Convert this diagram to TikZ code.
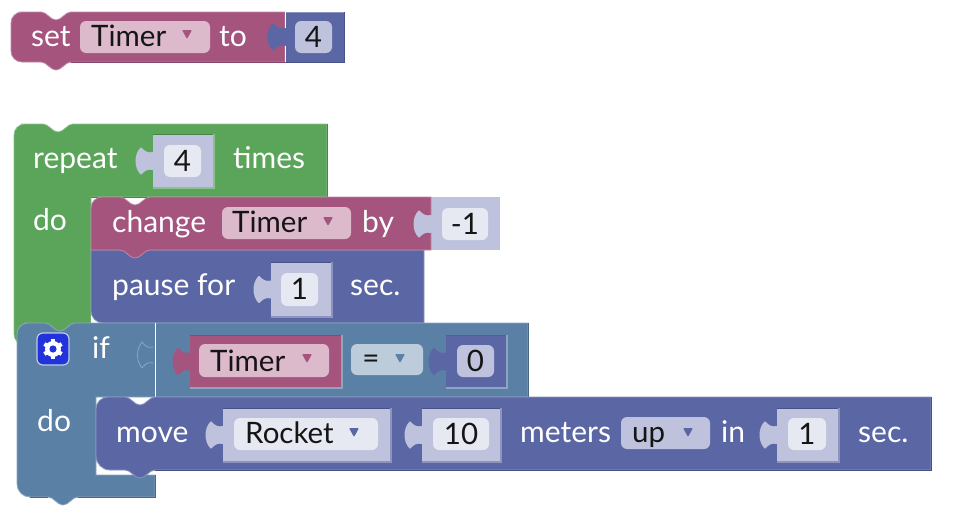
\documentclass[tikz,border=0pt]{standalone}
\usepackage{fontspec}
\setmainfont{Lato}
\definecolor{cMag}{HTML}{A5547E}
\definecolor{cMagL}{HTML}{C088A5}
\definecolor{cMagD}{HTML}{84436A}
\definecolor{cMagF}{HTML}{DDB9CC}
\definecolor{cBlu}{HTML}{5B67A5}
\definecolor{cBluL}{HTML}{8C95C0}
\definecolor{cBluD}{HTML}{495284}
\definecolor{cPale}{HTML}{BEC2DD}
\definecolor{cPaleF}{HTML}{E6E8F2}
\definecolor{cGrn}{HTML}{5BA55B}
\definecolor{cGrnL}{HTML}{8CC08C}
\definecolor{cGrnD}{HTML}{498449}
\definecolor{cIf}{HTML}{5B80A5}
\definecolor{cIfL}{HTML}{8CA6C0}
\definecolor{cIfD}{HTML}{496684}
\definecolor{cIfF}{HTML}{BDCCDB}
\definecolor{cGear}{HTML}{2233DD}
\definecolor{cInk}{HTML}{151515}
\tikzset{
  lbl/.style={anchor=base west,inner sep=0pt,text=white,font=\fontsize{30}{32}\selectfont},
  val/.style={anchor=base,inner sep=0pt,text=cInk,font=\fontsize{29.5}{31}\selectfont},
  fieldbox/.style={rounded corners=6pt},
  topnotch/.style 2 args={insert path={-- (#1,#2) .. controls ({#1+6},#2) and ({#1+9},{#2+8}) .. ({#1+15},{#2+8}) .. controls ({#1+21},{#2+8}) and ({#1+24},#2) .. ({#1+30},#2)}},
  bottab/.style 2 args={insert path={-- ({#1+30},#2) .. controls ({#1+24},#2) and ({#1+21},{#2+8}) .. ({#1+15},{#2+8}) .. controls ({#1+9},{#2+8}) and ({#1+6},#2) .. (#1,#2)}},
  ptab/.style 2 args={insert path={(#1,{#2-8}) .. controls ({#1-5},{#2-7}) and ({#1-8},{#2-8}) .. ({#1-12},{#2-12.5}) .. controls ({#1-18},{#2-6}) and ({#1-18},{#2+6}) .. ({#1-12},{#2+12.5}) .. controls ({#1-8},{#2+8}) and ({#1-5},{#2+7}) .. (#1,{#2+8}) -- cycle}},
  tabfill/.style={fill=#1,draw=#1,line width=2pt,line join=round},
}
\newcommand{\inbox}[7]{%
  \pgfmathsetmacro{\cyy}{(#3+#4)/2}%
  \fill[#5] (#1,#3) rectangle (#2,#4);
  \path[tabfill=#5,ptab={#1}{\cyy}];
  \draw[#7,line width=.7pt] (#1,{#3+0}) -- (#2,#3);
  \draw[#6,line width=1.3pt] (#1,#4) -- (#2,#4) -- (#2,#3);
}
\newcommand{\drop}[5]{\fill[#5,fieldbox] (#1,#3) rectangle (#2,#4);}
\newcommand{\tri}[3]{\fill[#3,rounded corners=1pt] ({#1-5},{#2-4}) -- ({#1+5},{#2-4}) -- (#1,{#2+5}) -- cycle;}
\begin{document}
\begin{tikzpicture}[x=1pt,y=-1pt]
\useasboundingbox (0,0) rectangle (967,530);
\fill[white] (0,0) rectangle (967,530);

% ---------- set block
\fill[cBlu] (285,12) rectangle (344,62);
\draw[cBluL,line width=.8pt] (285,12.5) -- (344,12.5);
\draw[cBluD,line width=.9pt] (344,12) -- (344,62) -- (285,62);
\filldraw[fill=cMag,draw=cMagL,line width=.8pt] (11,37) [rounded corners=11pt] -- (11,12) -- (30,12) [sharp corners] [topnotch={41}{12}] -- (285,12) -- (285,62) [bottab={41}{62}] -- (30,62) [rounded corners=11pt] -- (11,62) -- (11,37) [sharp corners] -- cycle;
\draw[cMagD,line width=.9pt] (71,62) -- (285,62);
\draw[white,line width=.8pt] (285.5,12) -- (285.5,62);
\path[tabfill=cBlu,ptab={285}{37}];
\fill[cPale,fieldbox] (295,21) rectangle (332,53);
\node[val] (setval) at (313.5,47) {4};
\node[lbl] (settxt) at (31,46) {set};
\drop{80}{210}{21}{53}{cMagF}
\node[val,anchor=base west] (setvar) at (91,46) {Timer};
\tri{187}{34}{cMag}
\node[lbl] (settotxt) at (219,46) {to};

% ---------- repeat block
\filldraw[fill=cGrn,draw=cGrnL,line width=.8pt] (14,200) [rounded corners=11pt] -- (14,124) -- (32,124) [sharp corners] [topnotch={43}{124}] -- (327,124) -- (327,197) -- (91,197) -- (91,345) -- (30,345) [rounded corners=11pt] -- (14,345) -- (14,300) [sharp corners] -- cycle;
\draw[cGrnD,line width=.9pt] (327,124) -- (327,197) -- (91,197);
\inbox{153}{214}{134}{188}{cPale}{cGrnL}{cGrnD}
\fill[cPaleF,fieldbox] (164,145) rectangle (201,177);
\node[val] (repval) at (182.5,171) {4};
\node[lbl] (reptxt) at (33,168) {repeat};
\node[lbl] (timestxt) at (233,168) {times};
\node[lbl] (dotxt) at (33,230) {do};

% ---------- pause block
\fill[white] (90.6,305) rectangle (110,323);
\filldraw[fill=cBlu,draw=cBluL,line width=.6pt] (91,250) [rounded corners=12pt] -- (91,323) -- (120,323) [sharp corners] -- (424,323) -- (424,250) -- cycle;
\inbox{271}{332}{262}{317}{cPale}{cBluL}{cBluD}
\fill[cPaleF,fieldbox] (281,273) rectangle (318,306);
\node[val] (pauseval) at (299.5,299) {1};
\node[lbl] (pausetxt) at (112,295) {pause for};
\node[lbl] (sectxt) at (350,295) {sec.};

% ---------- change block
\fill[cPale] (431,197) rectangle (500,250);
\filldraw[fill=cMag,draw=cMagL,line width=.8pt] (91,225) [rounded corners=11pt] -- (91,197) -- (110,197) [sharp corners] [topnotch={120}{197}] -- (431,197) -- (431,250) [bottab={120}{250}] -- (91,250) -- cycle;
\path[tabfill=cPale,ptab={431}{224}];
\fill[cPaleF,fieldbox] (442,208) rectangle (488,240);
\node[val] (changeval) at (465,234) {-1};
\node[lbl] (changetxt) at (112,232) {change};
\drop{222}{351}{207}{239}{cMagF}
\node[val,anchor=base west] (changevar) at (232,232) {Timer};
\tri{328}{221}{cMag}
\node[lbl] (bytxt) at (362,232) {by};

% ---------- if block
\filldraw[fill=cIf,draw=cIfL,line width=.8pt] (17,400) [rounded corners=11pt] -- (17,323) -- (35,323) [sharp corners] [topnotch={45}{323}] -- (528,323) -- (528,397) -- (96,397) -- (96,475) -- (155,475) -- (155,497) [bottab={48}{497}] -- (35,497) [rounded corners=13pt] -- (17,497) -- (17,450) [sharp corners] -- cycle;
\draw[cIfD,line width=.9pt] (528,323) -- (528,397);
\draw[cIfD,line width=.9pt] (155,475) -- (155,497) -- (78,497);
\draw[cIfD,line width=.9pt] (48,497) -- (30,497);
\draw[white,line width=.7pt] (155.5,323) -- (155.5,397);
\draw[cIfL,line width=.8pt] (153,347) .. controls (148,348) and (146,347) .. (142,342) .. controls (136,349) and (136,361) .. (142,368) .. controls (146,363) and (148,362) .. (153,363);
% gear
\filldraw[fill=cGear,draw=cIfF,line width=1.2pt,rounded corners=6pt] (37,333) rectangle (69,365);
\foreach \a in {30,90,...,330} \draw[white,line width=4pt] (53,349) -- ++(\a:10);
\fill[white] (53,349) circle[radius=8];
\fill[cGear] (53,349) circle[radius=3.6];
\node[lbl] (iftxt) at (92,358) {if};
\node[lbl] (dotxt2) at (37,431) {do};
\inbox{190}{342}{335}{388}{cMag}{cIfL}{cIfD}
\fill[cMagF,fieldbox] (199,344) rectangle (329,377);
\node[val,anchor=base west] (ifvar) at (210,371) {Timer};
\tri{307}{358}{cMag}
\drop{351}{423}{344}{375}{cIfF}
\node[val] (eqtxt) at (371,368) {=};
\tri{400}{358}{cIf}
\inbox{446}{507}{335}{388}{cBlu}{cIfL}{cIfD}
\fill[cPale,fieldbox] (457,345) rectangle (494,377);
\node[val] (ifval) at (475.5,371) {0};

% ---------- move block
\filldraw[fill=cBlu,draw=cBluL,line width=.8pt] (96,430) [rounded corners=12pt] -- (96,397) -- (115,397) [sharp corners] [topnotch={125}{397}] -- (931,397) -- (931,470) [bottab={125}{470}] -- (115,470) [rounded corners=14pt] -- (96,470) -- (96,440) [sharp corners] -- cycle;
\draw[cBluD,line width=.9pt] (931,397) -- (931,470) -- (155,470);
\inbox{223}{391}{408}{462}{cPale}{cBluL}{cBluD}
\fill[cPaleF,fieldbox] (234,418) rectangle (378,450);
\node[val,anchor=base west] (rocket) at (245,443) {Rocket};
\tri{354}{432}{cBlu}
\inbox{422}{501}{408}{462}{cPale}{cBluL}{cBluD}
\fill[cPaleF,fieldbox] (433,418) rectangle (489,450);
\node[val] (moveval) at (461,444) {10};
\node[lbl] (movetxt) at (116,442) {move};
\node[lbl] (meterstxt) at (520,442) {meters};
\drop{621}{710}{417}{449}{cPale}
\node[val,anchor=base west] (uptxt) at (632,442) {up};
\tri{688}{432}{cBlu}
\node[lbl] (intxt) at (721,442) {in};
\inbox{777}{839}{408}{462}{cPale}{cBluL}{cBluD}
\fill[cPaleF,fieldbox] (788,418) rectangle (826,450);
\node[val] (moveval2) at (807,444) {1};
\node[lbl] (sectxt2) at (858,442) {sec.};
\end{tikzpicture}
\end{document}
